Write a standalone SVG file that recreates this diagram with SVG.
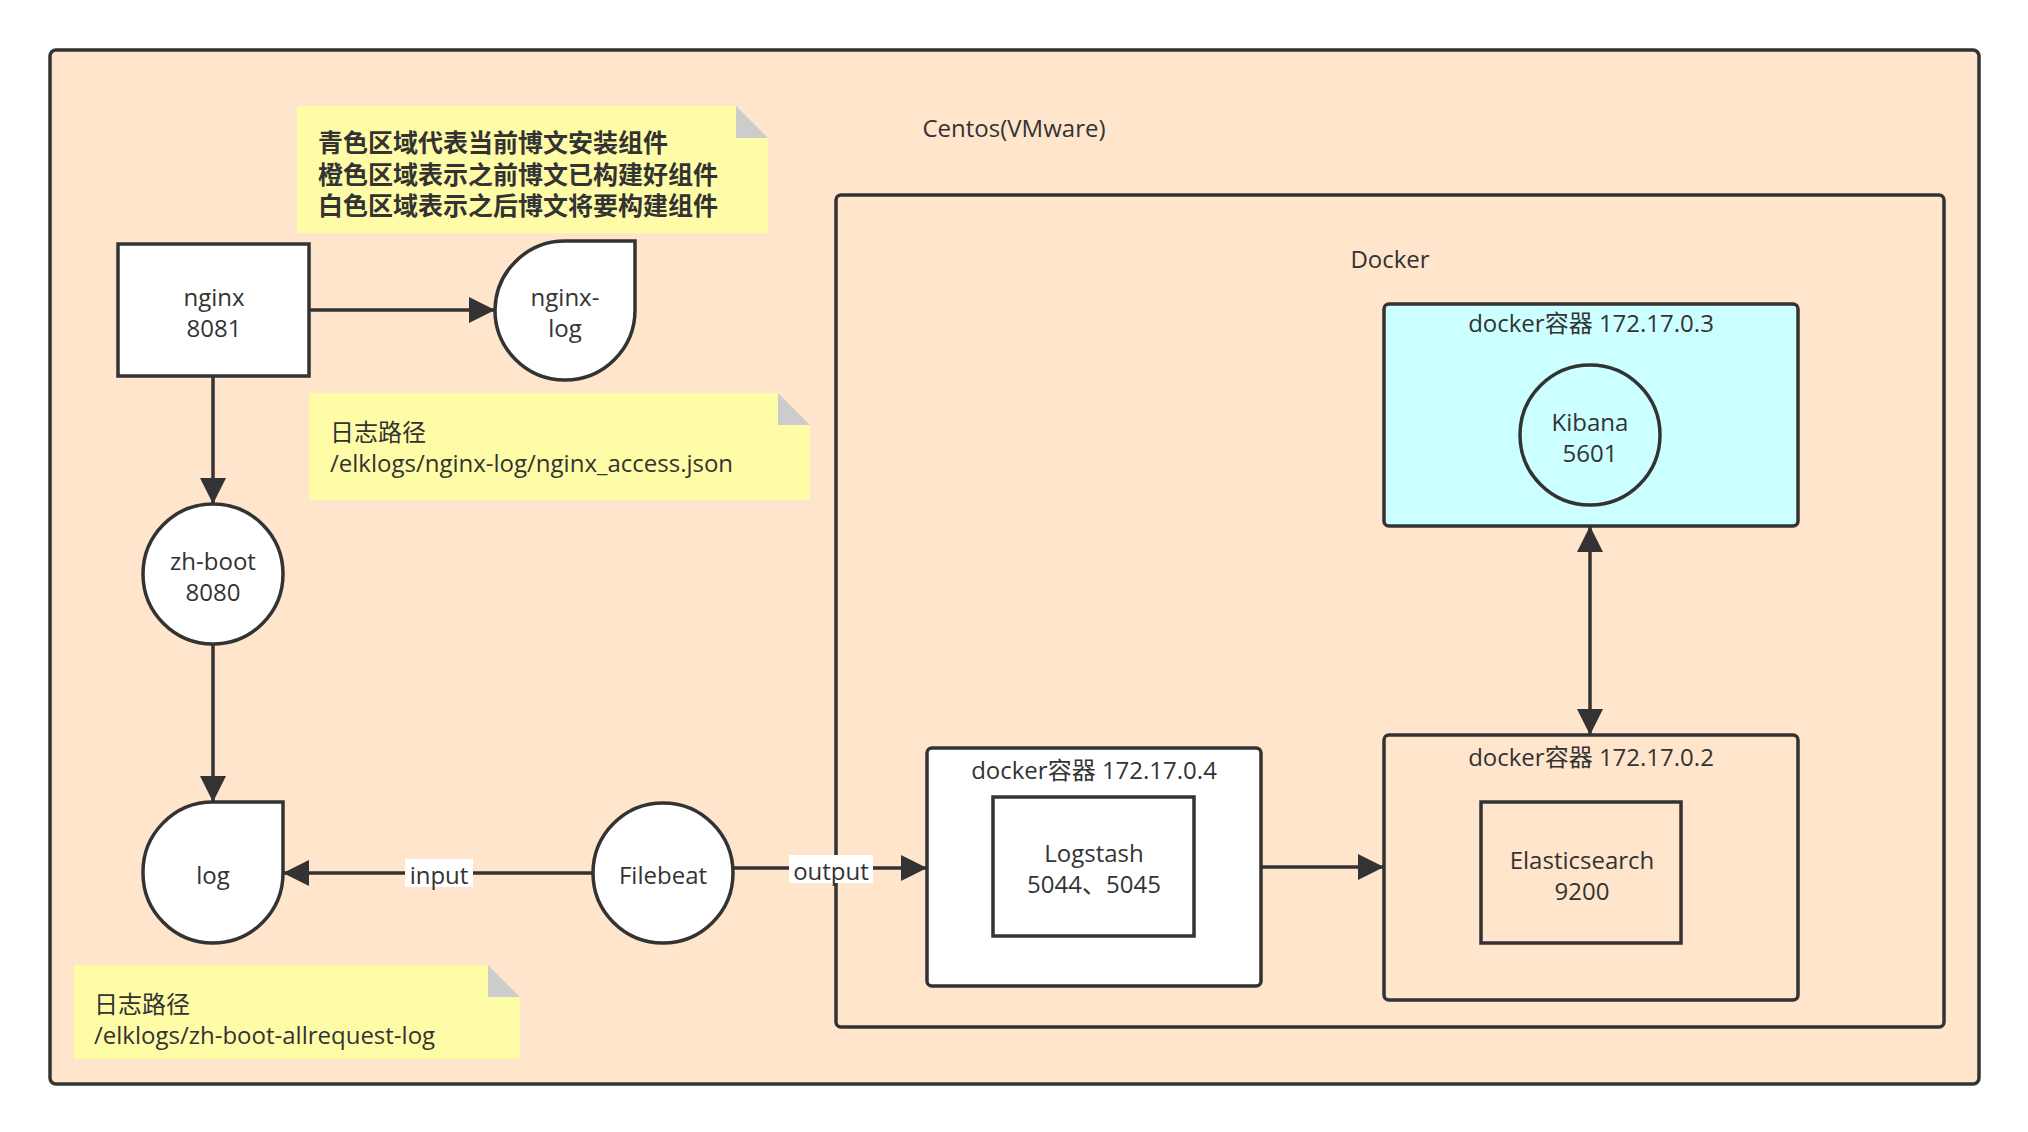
<svg xmlns="http://www.w3.org/2000/svg" width="2028" height="1132" viewBox="0 0 2028 1132">
<style>
text{font-family:"Open Sans","Noto Sans CJK SC",sans-serif;font-size:24px;fill:#333;text-anchor:middle}
.s{stroke:#333;stroke-width:3.5}
.l{stroke:#333;stroke-width:3.5;fill:none}
.n{fill:#fffca8}
.f{fill:#ccc}
.t{text-anchor:start}
.b{font-weight:bold;font-size:25px}
</style>
<defs><marker id="a" viewBox="0 0 10 10" refX="10" refY="5" markerWidth="9" markerHeight="9" markerUnits="userSpaceOnUse" orient="auto-start-reverse"><path d="M0,0L10,5L0,10z" fill="#333"/></marker>
<marker id="m" viewBox="0 0 10 10" refX="10" refY="5" markerWidth="32" markerHeight="26" markerUnits="userSpaceOnUse" orient="auto-start-reverse"><path d="M0,0L10,5L0,10z" fill="#333"/></marker></defs>
<rect width="2028" height="1132" fill="#fff"/>
<g id="centos"><rect x="50" y="50" width="1929" height="1034" rx="6" fill="#ffe5cc" class="s"/><text x="1014" y="137">Centos(VMware)</text></g>
<g id="docker"><rect x="836" y="195" width="1108" height="832" rx="5" fill="none" class="s"/><text x="1390" y="268">Docker</text></g>
<g id="kibana-container"><rect x="1384" y="304" width="414" height="222" rx="5" fill="#ccffff" class="s"/><text x="1591" y="332">docker容器 172.17.0.3</text></g>
<g id="kibana"><circle cx="1590" cy="435" r="70" fill="#ccffff" class="s"/><text x="1590" y="431">Kibana</text><text x="1590" y="462">5601</text></g>
<g id="es-container"><rect x="1384" y="735" width="414" height="265" rx="5" fill="none" class="s"/><text x="1591" y="766">docker容器 172.17.0.2</text></g>
<g id="elasticsearch"><rect x="1481" y="802" width="200" height="141" fill="none" class="s"/><text x="1582" y="869">Elasticsearch</text><text x="1582" y="900">9200</text></g>
<g id="logstash-container"><rect x="927" y="748" width="334" height="238" rx="5" fill="#fff" class="s"/><text x="1094" y="779">docker容器 172.17.0.4</text></g>
<g id="logstash"><rect x="993" y="797" width="201" height="139" fill="#fff" class="s"/><text x="1094" y="862">Logstash</text><text x="1094" y="893">5044、5045</text></g>
<g id="nginx"><rect x="118" y="244" width="191" height="132" fill="#fff" class="s"/><text x="214" y="306">nginx</text><text x="214" y="337">8081</text></g>
<g id="nginx-log"><path d="M565,241H635V310A70,70 0 1 1 495,310A70,70 0 0 1 565,241Z" fill="#fff" class="s"/><text x="565" y="306">nginx-</text><text x="565" y="337">log</text></g>
<g id="zh-boot"><circle cx="213" cy="574" r="70" fill="#fff" class="s"/><text x="213" y="570">zh-boot</text><text x="213" y="601">8080</text></g>
<g id="log"><path d="M213,802H283V873A70,70 0 1 1 143,873A70,70 0 0 1 213,802Z" fill="#fff" class="s"/><text x="213" y="884">log</text></g>
<g id="filebeat"><circle cx="663" cy="873" r="70" fill="#fff" class="s"/><text x="663" y="884">Filebeat</text></g>
<g id="note1"><path d="M297,106H736L768,138V233H297Z" class="n"/><path d="M736,106L768,138H736Z" class="f"/><text class="t b" x="318" y="152">青色区域代表当前博文安装组件</text><text class="t b" x="318" y="184">橙色区域表示之前博文已构建好组件</text><text class="t b" x="318" y="215">白色区域表示之后博文将要构建组件</text></g>
<g id="note2"><path d="M309,393H778L810,425V500H309Z" class="n"/><path d="M778,393L810,425H778Z" class="f"/><text class="t" x="330" y="441">日志路径</text><text class="t" x="330" y="472">/elklogs/nginx-log/nginx_access.json</text></g>
<g id="note3"><path d="M74,965H488L520,997V1059H74Z" class="n"/><path d="M488,965L520,997H488Z" class="f"/><text class="t" x="94" y="1013">日志路径</text><text class="t" x="94" y="1044">/elklogs/zh-boot-allrequest-log</text></g>
<g id="connectors">
<line x1="309" y1="310" x2="495" y2="310" class="l" marker-end="url(#m)"/>
<line x1="213" y1="376" x2="213" y2="504" class="l" marker-end="url(#m)"/>
<line x1="213" y1="644" x2="213" y2="802" class="l" marker-end="url(#m)"/>
<line x1="593" y1="873" x2="283" y2="873" class="l" marker-end="url(#m)"/>
<rect x="405" y="859" width="68" height="28" fill="#fff"/><text x="439" y="884">input</text>
<line x1="733" y1="868" x2="927" y2="868" class="l" marker-end="url(#m)"/>
<rect x="789" y="855" width="84" height="28" fill="#fff"/><text x="831" y="880">output</text>
<line x1="1261" y1="867" x2="1384" y2="867" class="l" marker-end="url(#m)"/>
<line x1="1590" y1="526" x2="1590" y2="735" class="l" marker-start="url(#m)" marker-end="url(#m)"/>
</g>
</svg>
